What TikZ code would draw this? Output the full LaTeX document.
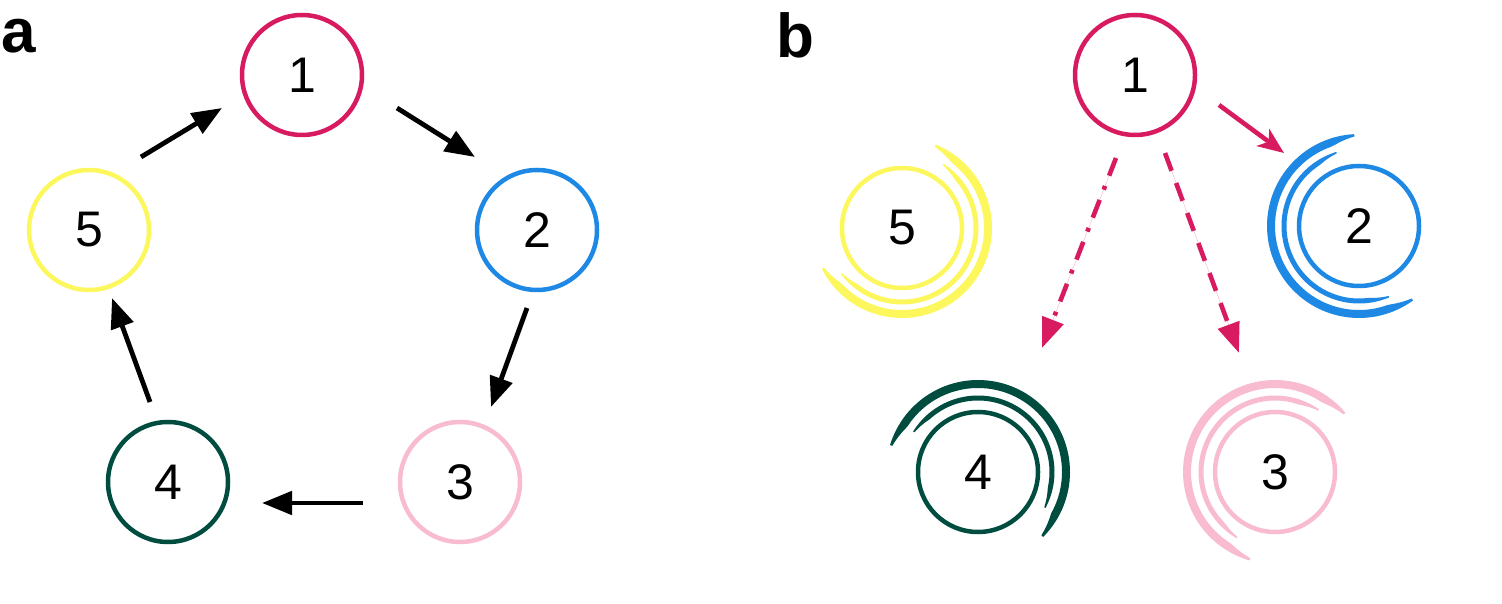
\documentclass[tikz,border=0pt]{standalone}
\usepackage{fontspec}
\setmainfont{Liberation Sans}
\usetikzlibrary{arrows.meta}
\definecolor{cmag}{HTML}{D81B60}
\definecolor{cblue}{HTML}{1E88E5}
\definecolor{cpink}{HTML}{F8BBD0}
\definecolor{cgreen}{HTML}{004D40}
\definecolor{cyel}{HTML}{FDF75E}
\tikzset{
  state/.style={circle, draw=#1, line width=4.5pt, minimum size=120pt, inner sep=0pt,
    font=\fontsize{50}{60}\selectfont, text=black},
  panel/.style={font=\fontsize{62}{70}\selectfont\bfseries, inner sep=0pt, anchor=base west},
  blk/.style={line width=4.8pt, -{Triangle[length=30pt,width=23pt]}},
  mg/.style={draw=cmag, line width=4.6pt},
  mgsolid/.style={mg, -{Stealth[length=26pt,width=21pt,inset=7pt]}, fill=cmag},
  mgdash/.style={mg, dash pattern=on 19pt off 13pt, -{Triangle[length=30pt,width=22pt]}, fill=cmag},
  mgdashdot/.style={mg, dash pattern=on 19pt off 11pt on 4pt off 11pt, -{Triangle[length=30pt,width=22pt]}, fill=cmag},
}
% swoosh: #1 node, #2 radius, #3 start angle, #4 end angle (#3<#4), #5 width, #6 colour
\newcommand\myswoosh[6]{%
  \begin{scope}[shift={(#1.center)}]
  \fill[#6] plot[domain=#3:#4, samples=80] ({(#2+#5/2)*cos(\x)},{(#2+#5/2)*sin(\x)})
    -- plot[domain=#4:#3, samples=80]
      ({(#2+#5/2-#5*min(1,0.3+min(abs(\x-#3),abs(\x-#4))/22))*cos(\x)},
       {(#2+#5/2-#5*min(1,0.3+min(abs(\x-#3),abs(\x-#4))/22))*sin(\x)}) -- cycle;
  \end{scope}}
\begin{document}
\begin{tikzpicture}[x=1pt,y=1pt]
\useasboundingbox (0,0) rectangle (1502,603);
% panel labels
\node[panel] (lblA) at (1,550) {a};
\node[panel] (lblB) at (776,545) {b};
% panel a
\node[state=cmag]   (a1) at (302,528) {1};
\node[state=cblue]  (a2) at (537,373) {2};
\node[state=cpink]  (a3) at (460,121) {3};
\node[state=cgreen] (a4) at (168,121) {4};
\node[state=cyel]   (a5) at (89,373)  {5};
\draw[blk] ([shift={(52,73)}]a5.center) -- ([shift={(-80,-33)}]a1.center);
\draw[blk] ([shift={(95,-33)}]a1.center) -- ([shift={(-62,73)}]a2.center);
\draw[blk] ([shift={(-10,-78)}]a2.center) -- ([shift={(31,75)}]a3.center);
\draw[blk] ([shift={(-97,-21)}]a3.center) -- ([shift={(94,-21)}]a4.center);
\draw[blk] ([shift={(-18,80)}]a4.center) -- ([shift={(23,-68)}]a5.center);
% panel b
\node[state=cmag]   (b1) at (1135,528) {1};
\node[state=cblue]  (b2) at (1359,377) {2};
\node[state=cpink]  (b3) at (1275,131) {3};
\node[state=cgreen] (b4) at (978,131)  {4};
\node[state=cyel]   (b5) at (902,375)  {5};
\myswoosh{b5}{86}{-153}{68}{8}{cyel}
\myswoosh{b5}{74}{-143}{57}{5}{cyel}
\myswoosh{b2}{88}{93}{306}{8}{cblue}
\myswoosh{b2}{75}{107}{293}{5}{cblue}
\myswoosh{b4}{88}{-45}{163}{8}{cgreen}
\myswoosh{b4}{74}{-28}{148}{5}{cgreen}
\myswoosh{b3}{88}{40}{254}{8}{cpink}
\myswoosh{b3}{74}{55}{240}{5}{cpink}
\draw[mgsolid] ([shift={(84,-30)}]b1.center) -- ([shift={(-75,73)}]b2.center);
\draw[mgdashdot] ([shift={(-19,-83)}]b1.center) -- ([shift={(64,124)}]b4.center);
\draw[mgdash] ([shift={(30,-78)}]b1.center) -- ([shift={(-36,119)}]b3.center);
\end{tikzpicture}
\end{document}
